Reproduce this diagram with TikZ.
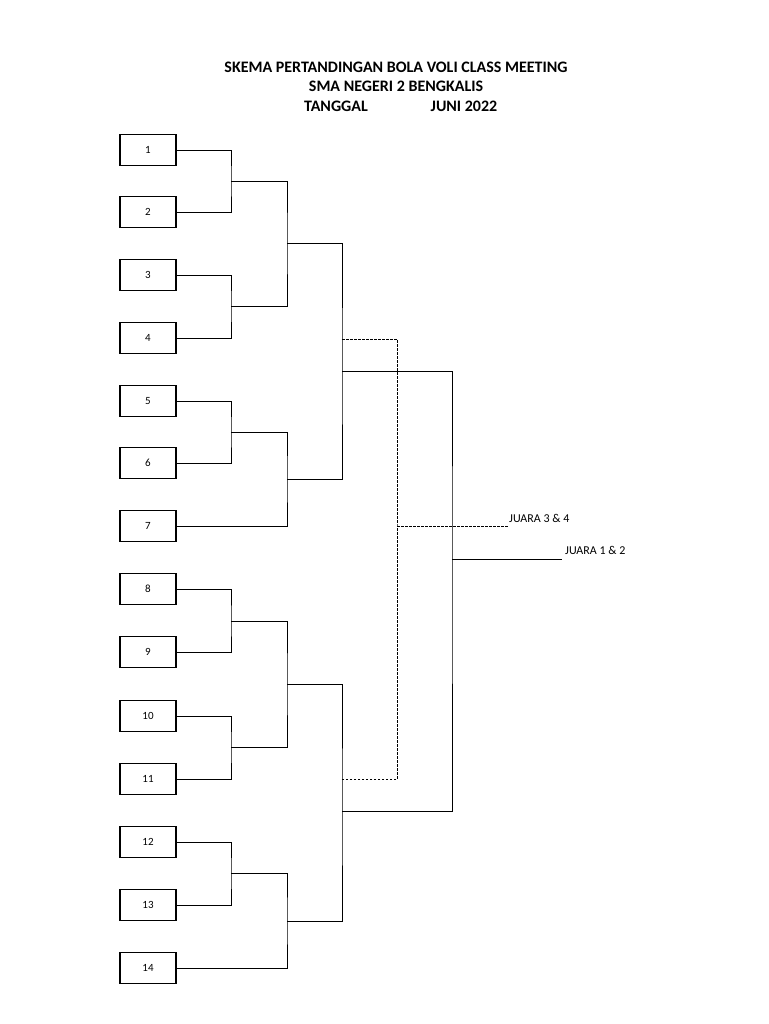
\documentclass[tikz,border=0pt]{standalone}
\usepackage{fontspec}
\setmainfont{Carlito}
\begin{document}
\begin{tikzpicture}[x=1pt,y=-1pt,
  team/.style={draw,line width=1.6pt,minimum width=56pt,minimum height=31pt,inner sep=0pt,font=\fontsize{11}{12}\selectfont},
  wire/.style={line width=0.8pt},
  dwire/.style={line width=0.8pt,dash pattern=on 2.5pt off 1.5pt},
  title/.style={font=\bfseries\fontsize{16}{18}\selectfont,inner sep=0pt},
  lab/.style={font=\fontsize{12}{13}\selectfont,inner sep=0pt,anchor=west}]
\useasboundingbox (0,0) rectangle (768,1024);
\node[title] (t1) at (396,67) {SKEMA PERTANDINGAN BOLA VOLI CLASS MEETING};
\node[title] (t2) at (396,86) {SMA NEGERI 2 BENGKALIS};
\node[title] (t3) at (336,106) {TANGGAL};
\node[title] (t4) at (464,106) {JUNI 2022};
\foreach \i/\y in {1/150,2/212,3/275,4/338,5/401,6/463,7/526,8/589,9/652,10/716,11/779,12/842,13/905,14/968}
  \node[team] (b\i) at (148,\y) {\i};
\coordinate (j12) at (231,181);
\coordinate (j34) at (231,306);
\coordinate (j56) at (231,432);
\coordinate (j89) at (231,621);
\coordinate (j1011) at (231,747);
\coordinate (j1213) at (231,873);
\coordinate (q1) at (287,243);
\coordinate (q2) at (287,479);
\coordinate (q3) at (287,684);
\coordinate (q4) at (287,921);
\coordinate (s1) at (342,371);
\coordinate (s2) at (342,811);
\coordinate (fin) at (452,559);
\coordinate (e12) at (562,559);
\coordinate (d1) at (342,339);
\coordinate (d2) at (342,779);
\coordinate (dv) at (397,526);
\coordinate (e34) at (508,526);
\draw[wire] (b1.east) -| (j12) |- (b2.east);
\draw[wire] (b3.east) -| (j34) |- (b4.east);
\draw[wire] (b5.east) -| (j56) |- (b6.east);
\draw[wire] (b8.east) -| (j89) |- (b9.east);
\draw[wire] (b10.east) -| (j1011) |- (b11.east);
\draw[wire] (b12.east) -| (j1213) |- (b13.east);
\draw[wire] (j12) -| (q1) |- (j34);
\draw[wire] (j56) -| (q2) |- (b7.east);
\draw[wire] (j89) -| (q3) |- (j1011);
\draw[wire] (j1213) -| (q4) |- (b14.east);
\draw[wire] (q1) -| (s1) |- (q2);
\draw[wire] (q3) -| (s2) |- (q4);
\draw[wire] (s1) -| (fin) |- (s2);
\draw[wire] (fin) -- (e12);
\draw[dwire] (d1) -| (dv) |- (d2);
\draw[dwire] (dv) -- (e34);
\node[lab] (l34) at (509,518) {JUARA 3 \& 4};
\node[lab] (l12) at (565,550) {JUARA 1 \& 2};
\end{tikzpicture}
\end{document}
